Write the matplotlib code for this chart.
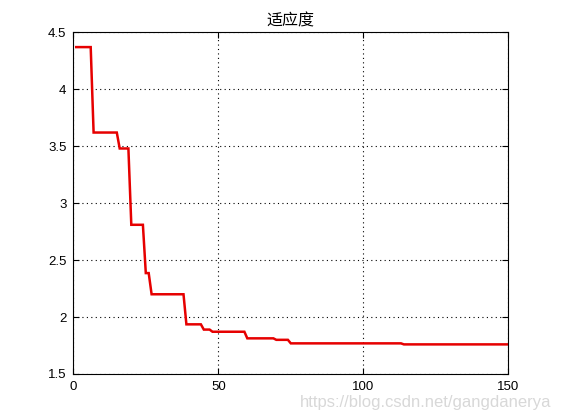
import matplotlib
matplotlib.use("Agg")
import matplotlib.pyplot as plt

# vertices of best-fitness curve (generation, fitness)
generations = [1, 6, 7, 15, 16, 19, 20, 24, 25, 26, 27, 38, 39, 44, 45, 47, 48,
               59, 60, 69, 70, 74, 75, 113, 114, 150]
fitness = [4.37, 4.37, 3.62, 3.62, 3.48, 3.48, 2.81, 2.81, 2.386, 2.386, 2.20,
           2.20, 1.936, 1.936, 1.89, 1.89, 1.871, 1.871, 1.813, 1.813, 1.80,
           1.80, 1.769, 1.769, 1.76, 1.76]
xticks = [0, 50, 100, 150]
yticks = [1.5, 2, 2.5, 3, 3.5, 4, 4.5]
yticklabels = ["1.5", "2", "2.5", "3", "3.5", "4", "4.5"]
title = "适应度"
watermark = "https://blog.csdn.net/gangdanerya"

plt.rcParams['font.family'] = ['Liberation Sans', 'Noto Sans CJK SC', 'DejaVu Sans']

fig = plt.figure(figsize=(5.61, 4.20), dpi=100)
ax = fig.add_axes([73.3 / 561, 1 - 374 / 420, (508.3 - 73.3) / 561, (374 - 32.3) / 420])
ax.plot(generations, fitness, color='#e60000', linewidth=1.8, solid_joinstyle='miter')
ax.set_xlim(0, 150)
ax.set_ylim(1.5, 4.5)
ax.set_xticks(xticks)
ax.set_xticklabels([str(t) for t in xticks])
ax.set_yticks(yticks)
ax.set_yticklabels(yticklabels)
ax.tick_params(direction='in', length=4, width=0.8, labelsize=9.5, top=True, right=True,
               labeltop=False, labelright=False, pad=5)
ax.grid(True, linestyle=(0, (1, 3)), color='black', linewidth=0.8)
for s in ax.spines.values():
    s.set_linewidth(0.8)
ax.set_title(title, family=['Noto Sans CJK SC', 'DejaVu Sans'], fontsize=11.5, pad=5)
fig.text(551 / 561, 1 - 402 / 420, watermark, ha='right', va='center',
         fontsize=12, color='#d8d8d8')
fig.savefig("out.png", dpi=100)
